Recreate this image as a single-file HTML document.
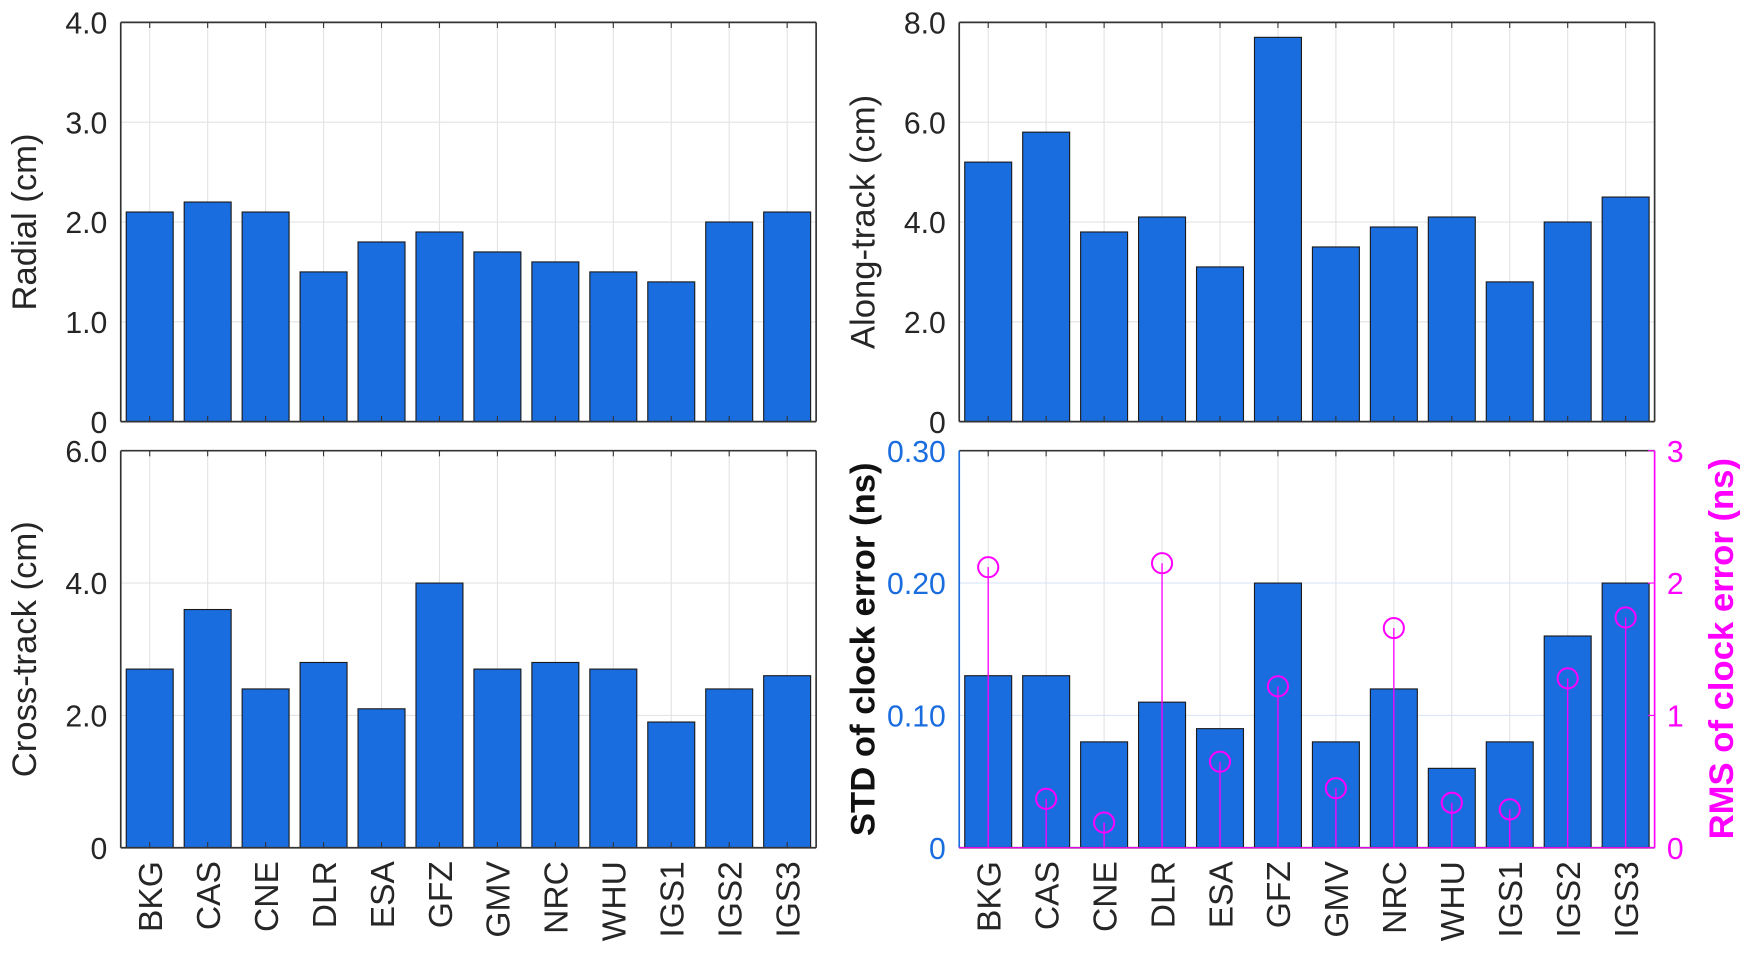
<!DOCTYPE html><html><head><style>html,body{margin:0;padding:0;background:#fff}svg{display:block}</style></head><body>
<svg id="s" width="1753" height="954" viewBox="0 0 1568 853" preserveAspectRatio="none" xmlns="http://www.w3.org/2000/svg" font-family="Liberation Sans, sans-serif"></svg>
<script>
const s=document.getElementById('s');let h='';
const names=['BKG','CAS','CNE','DLR','ESA','GFZ','GMV','NRC','WHU','IGS1','IGS2','IGS3'];
function panel(x0,y0,y1,vals,max,ticks,lab,ylabel,opt){
 const W=622,sw=W/12,H=y1-y0;
 const Y=v=>y1-v/max*H;
 for(let i=0;i<12;i++){const cx=x0+sw*(i+.5);h+=`<line x1="${cx}" y1="${y0}" x2="${cx}" y2="${y1}" stroke="#e3e3e3" stroke-width="1"/>`;}
 ticks.forEach((t,k)=>{if(t>0&&t<max)h+=`<line x1="${x0}" y1="${Y(t)}" x2="${x0+W}" y2="${Y(t)}" stroke="${opt&&opt.blue?'#d9e6fa':'#e3e3e3'}" stroke-width="1"/>`;});
 vals.forEach((v,i)=>{const cx=x0+sw*(i+.5);h+=`<rect x="${cx-21}" y="${Y(v)}" width="42" height="${y1-Y(v)}" fill="#1a6ddf" stroke="#1a1a1a" stroke-width="1"/>`;
  h+=`<line x1="${cx}" y1="${y1}" x2="${cx}" y2="${y1-5}" stroke="#333"/><line x1="${cx}" y1="${y0}" x2="${cx}" y2="${y0+5}" stroke="#333"/>`;});
 const lc=opt&&opt.blue?'#1a6ddf':'#333';
 h+=`<line x1="${x0}" y1="${y0}" x2="${x0+W}" y2="${y0}" stroke="#333" stroke-width="1.5"/>`;
 h+=`<line x1="${x0}" y1="${y1}" x2="${x0+W}" y2="${y1}" stroke="#333" stroke-width="1.5"/>`;
 h+=`<line x1="${x0}" y1="${y0}" x2="${x0}" y2="${y1}" stroke="${lc}" stroke-width="1.5"/>`;
 if(!(opt&&opt.blue))h+=`<line x1="${x0+W}" y1="${y0}" x2="${x0+W}" y2="${y1}" stroke="#333" stroke-width="1.5"/>`;
 ticks.forEach((t,k)=>{h+=`<text x="${x0-12}" y="${Y(t)+10}" font-size="27" fill="${opt&&opt.blue?'#1a6ddf':'#262626'}" text-anchor="end">${lab[k]}</text>`;});
 h+=`<text transform="translate(${x0-76},${(y0+y1)/2}) rotate(-90)" font-size="31" text-anchor="middle" ${opt&&opt.blue?'font-weight="bold" fill="#111"':'fill="#262626"'}>${ylabel}</text>`;
 if(opt&&opt.xl)names.forEach((n,i)=>{const cx=x0+sw*(i+.5);h+=`<text transform="translate(${cx+11},${y1+12}) rotate(-90)" font-size="30" fill="#262626" text-anchor="end">${n}</text>`;});
 return {x0,sw,y1,H};
}
panel(108,20,377,[2.1,2.2,2.1,1.5,1.8,1.9,1.7,1.6,1.5,1.4,2.0,2.1],4,[0,1,2,3,4],['0','1.0','2.0','3.0','4.0'],'Radial (cm)');
panel(858,20,377,[5.2,5.8,3.8,4.1,3.1,7.7,3.5,3.9,4.1,2.8,4.0,4.5],8,[0,2,4,6,8],['0','2.0','4.0','6.0','8.0'],'Along-track (cm)');
panel(108,403,758,[2.7,3.6,2.4,2.8,2.1,4.0,2.7,2.8,2.7,1.9,2.4,2.6],6,[0,2,4,6],['0','2.0','4.0','6.0'],'Cross-track (cm)',{xl:1});
const p=panel(858,403,758,[.13,.13,.08,.11,.09,.20,.08,.12,.06,.08,.16,.20],.3,[0,.1,.2,.3],['0','0.10','0.20','0.30'],'STD of clock error (ns)',{xl:1,blue:1});
const rms=[2.12,0.37,0.19,2.15,0.65,1.22,0.45,1.66,0.34,0.29,1.28,1.74];
rms.forEach((v,i)=>{const cx=858+p.sw*(i+.5),y=758-v/3*355;h+=`<line x1="${cx}" y1="758" x2="${cx}" y2="${y}" stroke="#ff00ff" stroke-width="1.2"/><circle cx="${cx}" cy="${y}" r="9" fill="none" stroke="#ff00ff" stroke-width="1.8"/>`;});
h+=`<line x1="858" y1="758" x2="1480" y2="758" stroke="#ff00ff" stroke-width="1.2"/><line x1="1480" y1="403" x2="1480" y2="758" stroke="#ff00ff" stroke-width="1.5"/>`;
[0,1,2,3].forEach(t=>{const y=758-t/3*355;h+=`<line x1="1474" y1="${y}" x2="1480" y2="${y}" stroke="#ff00ff"/><text x="1491" y="${y+10}" font-size="27" fill="#ff00ff">${t}</text>`;});
h+=`<text transform="translate(1550,580) rotate(-90)" font-size="31" font-weight="bold" fill="#ff00ff" text-anchor="middle">RMS of clock error (ns)</text>`;
s.innerHTML=h;
</script></body></html>
